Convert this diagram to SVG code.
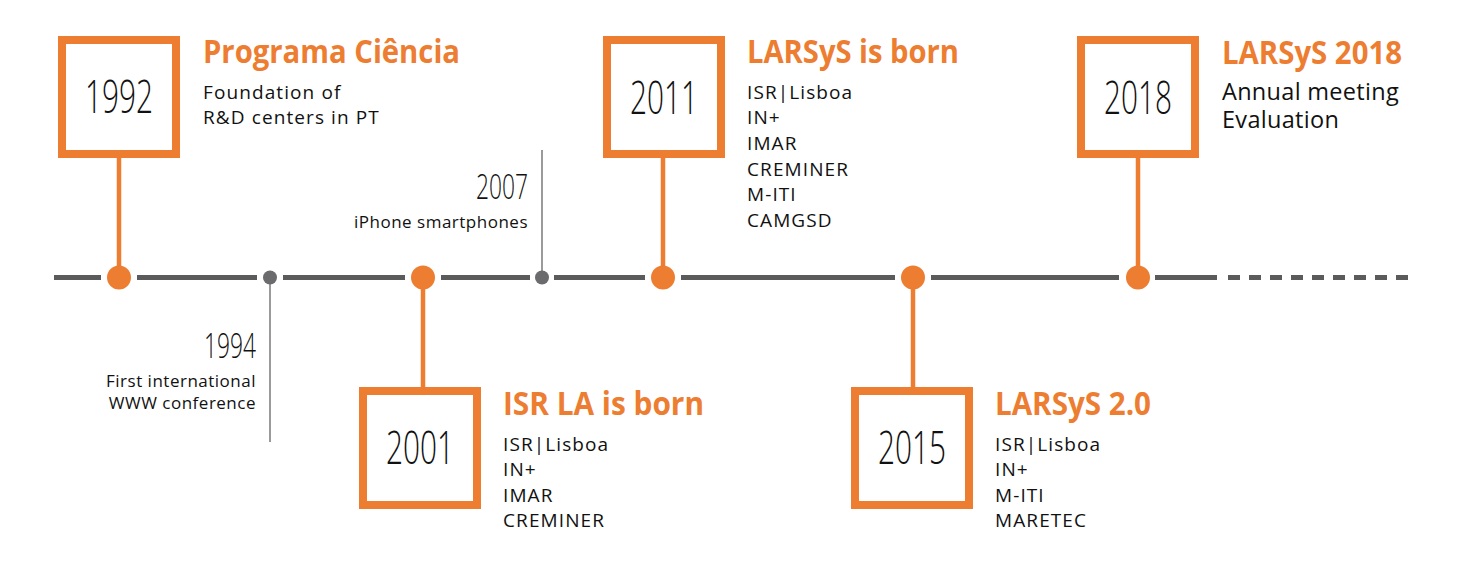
<svg xmlns="http://www.w3.org/2000/svg" width="1477" height="563" viewBox="0 0 1477 563">
<style>
.axis{stroke:#5b5b5b;stroke-width:5;fill:none}
.dash{stroke:#5b5b5b;stroke-width:5;fill:none;stroke-dasharray:12 9}
.stem{stroke:#ED7D31;stroke-width:4.5;fill:none}
.thin{stroke:#7a7a7a;stroke-width:1.5;fill:none}
.box{fill:#fff;stroke:#ED7D31;stroke-width:8}
.odot{fill:#ED7D31}
.gdot{fill:#6b6b6e}
.year{font-family:"Open Sans","Liberation Sans",sans-serif;font-weight:300;font-size:46px;fill:#111;text-anchor:middle}
.syear{font-family:"Open Sans","Liberation Sans",sans-serif;font-weight:300;font-size:34px;fill:#111;text-anchor:end}
.title{font-family:"Open Sans","Liberation Sans",sans-serif;font-weight:700;font-size:33px;fill:#ED7D31}
.body{font-family:"Open Sans","Liberation Sans",sans-serif;font-size:19px;letter-spacing:1.1px;fill:#111}
.big{font-family:"Open Sans","Liberation Sans",sans-serif;font-size:23.5px;letter-spacing:0.3px;fill:#111}
.small{font-family:"Open Sans","Liberation Sans",sans-serif;font-size:17px;letter-spacing:0.5px;fill:#111;text-anchor:end}
</style>
<g id="connectors">
<path class="axis" d="M54 277.5H101M137 277.5H257M283 277.5H405M441 277.5H530M554 277.5H645M681 277.5H895M931 277.5H1119M1155 277.5H1217"/>
<path class="dash" d="M1228 277.5H1410"/>
<path class="stem" d="M119 158V277M423 277V387M663 158V277M913 277V387M1138 158V277"/>
<path class="thin" d="M542 150V277M270 277V442"/>
</g>
<g id="n1992">
<rect class="box" x="62" y="40" width="114" height="114"/>
<circle class="odot" cx="119" cy="277.5" r="12"/>
<text class="year" x="119" y="113" textLength="68" lengthAdjust="spacingAndGlyphs">1992</text>
<text class="title" x="203" y="63" textLength="257" lengthAdjust="spacingAndGlyphs">Programa Ciência</text>
<text class="body" x="203" y="99">Foundation of</text>
<text class="body" x="203" y="124">R&amp;D centers in PT</text>
</g>
<g id="n1994">
<circle class="gdot" cx="270" cy="277.5" r="7"/>
<text class="syear" x="256" y="358" textLength="52" lengthAdjust="spacingAndGlyphs">1994</text>
<text class="small" x="256" y="387">First international</text>
<text class="small" x="256" y="409">WWW conference</text>
</g>
<g id="n2001">
<rect class="box" x="363" y="391" width="114" height="114"/>
<circle class="odot" cx="423" cy="277.5" r="12"/>
<text class="year" x="420" y="464" textLength="68" lengthAdjust="spacingAndGlyphs">2001</text>
<text class="title" x="503" y="415" textLength="201" lengthAdjust="spacingAndGlyphs">ISR LA is born</text>
<text class="body" x="503" y="451">ISR|Lisboa</text>
<text class="body" x="503" y="476">IN+</text>
<text class="body" x="503" y="502">IMAR</text>
<text class="body" x="503" y="527">CREMINER</text>
</g>
<g id="n2007">
<circle class="gdot" cx="542" cy="277.5" r="7"/>
<text class="syear" x="528" y="199" textLength="52" lengthAdjust="spacingAndGlyphs">2007</text>
<text class="small" x="528" y="228" font-size="18" letter-spacing="0.65">iPhone smartphones</text>
</g>
<g id="n2011">
<rect class="box" x="607" y="40" width="114" height="114"/>
<circle class="odot" cx="663" cy="277.5" r="12"/>
<text class="year" x="664" y="114" textLength="68" lengthAdjust="spacingAndGlyphs">2011</text>
<text class="title" x="747" y="63" textLength="212" lengthAdjust="spacingAndGlyphs">LARSyS is born</text>
<text class="body" x="747" y="99">ISR|Lisboa</text>
<text class="body" x="747" y="124">IN+</text>
<text class="body" x="747" y="150">IMAR</text>
<text class="body" x="747" y="176">CREMINER</text>
<text class="body" x="747" y="201">M-ITI</text>
<text class="body" x="747" y="227">CAMGSD</text>
</g>
<g id="n2015">
<rect class="box" x="855" y="391" width="114" height="114"/>
<circle class="odot" cx="913" cy="277.5" r="12"/>
<text class="year" x="912" y="464" textLength="68" lengthAdjust="spacingAndGlyphs">2015</text>
<text class="title" x="995" y="415" textLength="156" lengthAdjust="spacingAndGlyphs">LARSyS 2.0</text>
<text class="body" x="995" y="451">ISR|Lisboa</text>
<text class="body" x="995" y="476">IN+</text>
<text class="body" x="995" y="502">M-ITI</text>
<text class="body" x="995" y="527">MARETEC</text>
</g>
<g id="n2018">
<rect class="box" x="1081" y="40" width="114" height="114"/>
<circle class="odot" cx="1138" cy="277.5" r="12"/>
<text class="year" x="1138" y="114" textLength="68" lengthAdjust="spacingAndGlyphs">2018</text>
<text class="title" x="1222" y="64" textLength="180" lengthAdjust="spacingAndGlyphs">LARSyS 2018</text>
<text class="big" x="1222" y="100">Annual meeting</text>
<text class="big" x="1222" y="128">Evaluation</text>
</g>
</svg>
